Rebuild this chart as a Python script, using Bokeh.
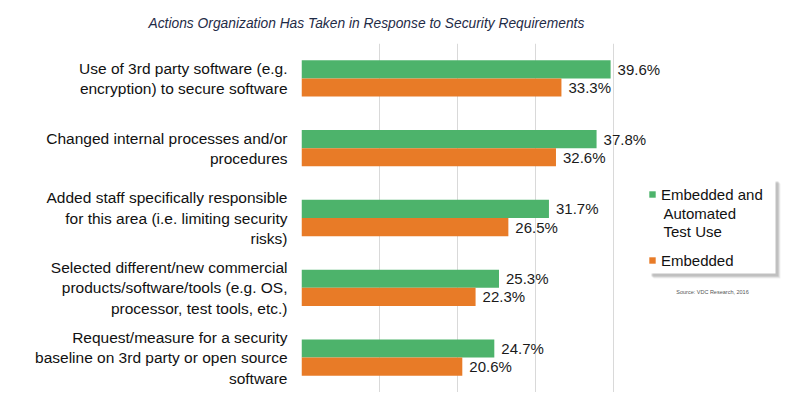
from bokeh.plotting import figure
from bokeh.models import (FactorRange, Range1d, FixedTicker, ColumnDataSource,
                          Legend, LegendItem, Label, BoxAnnotation)
from bokeh.transform import dodge
from bokeh.core.properties import value
from bokeh.embed import file_html
from bokeh.resources import INLINE

# ---- data ----
categories = [
    "Use of 3rd party software (e.g.\nencryption) to secure software",
    "Changed internal processes and/or\nprocedures",
    "Added staff specifically responsible\nfor this area (i.e. limiting security\nrisks)",
    "Selected different/new commercial\nproducts/software/tools (e.g. OS,\nprocessor, test tools, etc.)",
    "Request/measure for a security\nbaseline on 3rd party or open source\nsoftware",
]
embedded_test_vals = [39.6, 37.8, 31.7, 25.3, 24.7]
embedded_vals = [33.3, 32.6, 26.5, 22.3, 20.6]
series_first_lines = ["Embedded and", "Embedded"]
series_extra_lines = ["Automated", "Test Use"]
grid_ticks = [0, 10, 20, 30, 40]
title_text = "Actions Organization Has Taken in Response to Security Requirements"
source_text = "Source: VDC Research, 2016"

GREEN = "#4db36b"
ORANGE = "#e87b27"
FONT = "Liberation Sans"

src = ColumnDataSource(dict(
    cat=categories,
    g=embedded_test_vals,
    o=embedded_vals,
    g_lbl=[f"{v:.1f}%" for v in embedded_test_vals],
    o_lbl=[f"{v:.1f}%" for v in embedded_vals],
))

p = figure(width=792, height=392, title=title_text,
           y_range=FactorRange(factors=categories[::-1]),
           x_range=Range1d(0, 62.9),
           output_backend="svg", toolbar_location=None,
           min_border_left=301, min_border_top=43,
           min_border_bottom=0, min_border_right=0)
p.outline_line_color = None
p.background_fill_color = "white"

p.title.align = "left"
p.title.offset = -153
p.title.vertical_align = "middle"
p.title.standoff = 24
p.title.text_font = FONT
p.title.text_font_style = "italic"
p.title.text_font_size = "13.8px"
p.title.text_color = "#1f2c47"

rg = p.hbar(y=dodge("cat", 0.13, range=p.y_range), left=0, right="g", height=0.26,
            fill_color=GREEN, line_color=None, source=src)
ro = p.hbar(y=dodge("cat", -0.13, range=p.y_range), left=0, right="o", height=0.26,
            fill_color=ORANGE, line_color=None, source=src)

p.text(x="g", y=dodge("cat", 0.13, range=p.y_range), text="g_lbl", x_offset=7,
       text_baseline="middle", text_align="left", text_font=value(FONT),
       text_font_size="15px", text_color="#1a1a1a", source=src)
p.text(x="o", y=dodge("cat", -0.13, range=p.y_range), text="o_lbl", x_offset=7,
       text_baseline="middle", text_align="left", text_font=value(FONT),
       text_font_size="15px", text_color="#1a1a1a", source=src)

p.xaxis.visible = False
p.xgrid.ticker = FixedTicker(ticks=grid_ticks)
p.xgrid.grid_line_color = "#d9d9d9"
p.ygrid.visible = False

ya = p.yaxis[0]
ya.axis_line_color = None
ya.major_tick_line_color = None
ya.minor_tick_line_color = None
ya.major_tick_out = 0
ya.major_tick_in = 0
ya.major_label_standoff = 14
ya.major_label_text_font = FONT
ya.major_label_text_font_size = "15.5px"
ya.major_label_text_color = "#111111"

# legend box with a soft drop shadow
BOX = dict(left=648, right=775, top=178, bottom=273)
for off, alpha in [(5, 0.12), (4, 0.22), (3, 0.32)]:
    p.add_layout(BoxAnnotation(left=BOX["left"] + off, right=BOX["right"] + off,
                               top=BOX["top"] + off, bottom=BOX["bottom"] + off,
                               left_units="canvas", right_units="canvas",
                               top_units="canvas", bottom_units="canvas",
                               fill_color="#8a8a8a", fill_alpha=alpha, line_color=None))
p.add_layout(BoxAnnotation(left_units="canvas", right_units="canvas",
                           top_units="canvas", bottom_units="canvas",
                           fill_color="white", fill_alpha=1.0, line_color=None, **BOX))

legend = Legend(items=[LegendItem(label=series_first_lines[0], renderers=[rg]),
                       LegendItem(label=series_first_lines[1], renderers=[ro])],
                location=(347, 123))
legend.border_line_color = None
legend.background_fill_alpha = 0.0
legend.label_text_font = FONT
legend.label_text_font_size = "15px"
legend.label_text_color = "#111111"
legend.label_height = 18
legend.glyph_width = 8
legend.glyph_height = 8
legend.label_standoff = 5
legend.spacing = 48
legend.padding = 6
p.add_layout(legend)

for i, line in enumerate(series_extra_lines):
    p.add_layout(Label(x=663, y=213 + 18 * i, x_units="canvas", y_units="canvas", text=line,
                       text_align="left", text_baseline="middle", level="overlay",
                       text_font=FONT, text_font_size="15px", text_color="#111111"))

p.add_layout(Label(x=712, y=291, x_units="canvas", y_units="canvas", text=source_text,
                   text_align="center", text_baseline="middle", level="overlay",
                   text_font=FONT, text_font_size="5.5px", text_color="#555555"))

open("out.html", "w").write(file_html(p, INLINE))
